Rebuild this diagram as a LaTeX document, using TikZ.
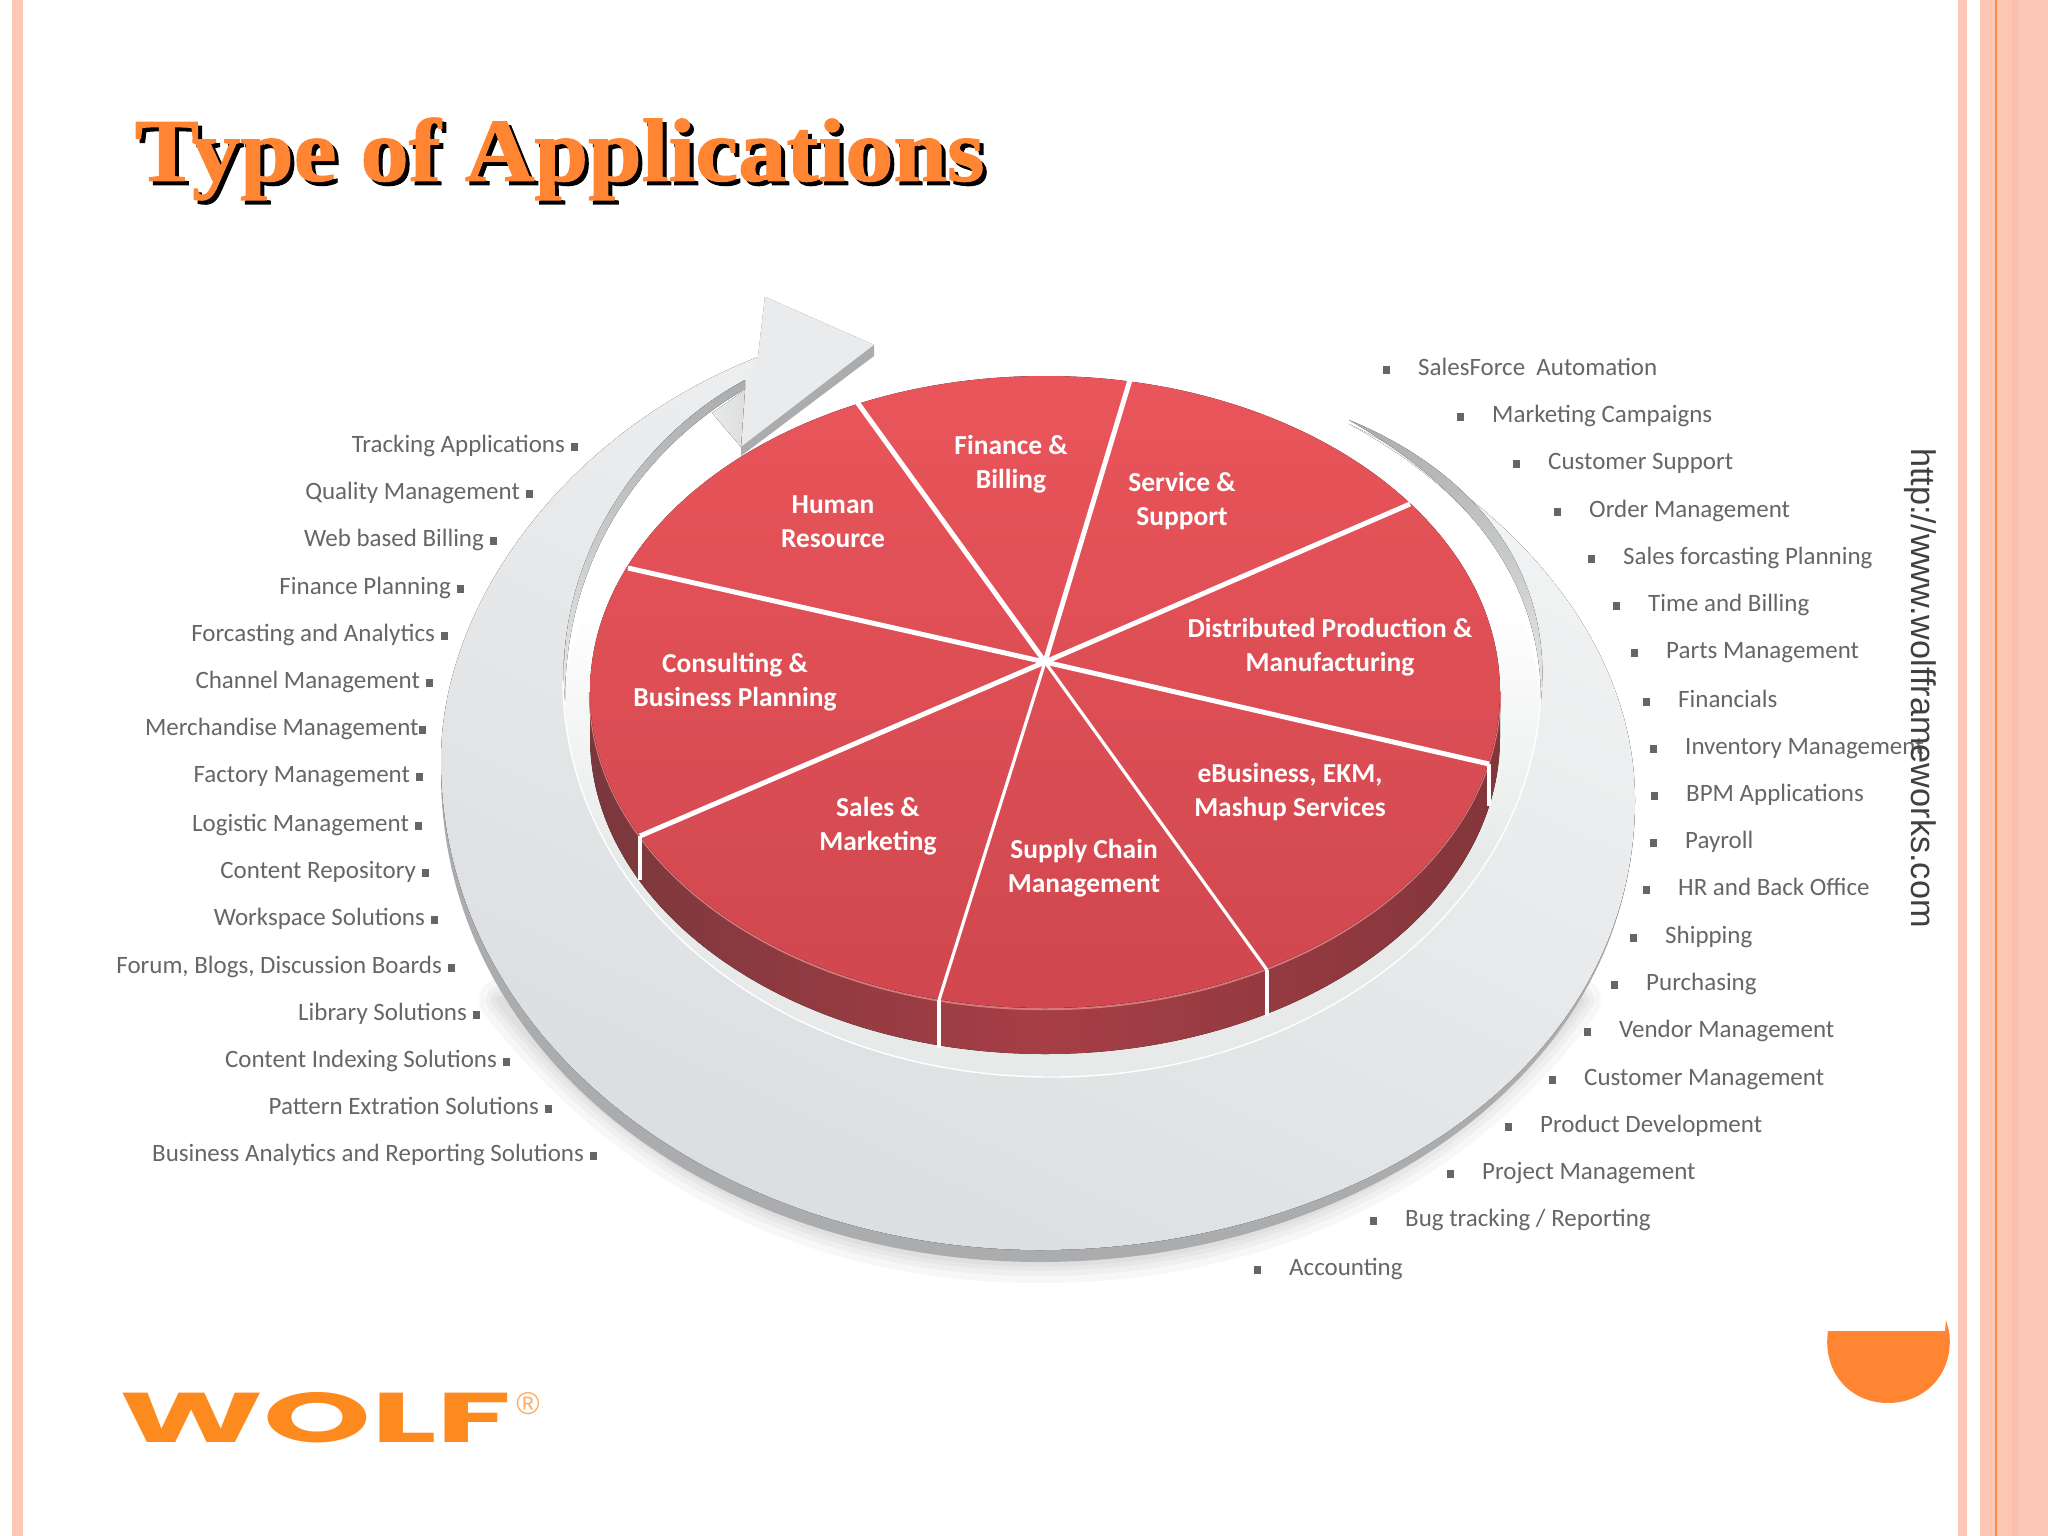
\documentclass[tikz,border=0pt]{standalone}
\usepackage{fontspec}
\usepackage{xcolor}
\setmainfont{Carlito}
\newfontfamily\titlefont[BoldFeatures={FakeBold=1.2}]{Liberation Serif}
\newfontfamily\urlfont{Liberation Sans}
\newfontfamily\logofont{Poppins}
\definecolor{stripe}{HTML}{FDC7B5}
\definecolor{stripedark}{HTML}{FBBFAB}
\definecolor{accent}{HTML}{FF8533}
\definecolor{logoorange}{HTML}{FD8A1E}
\definecolor{listgrey}{HTML}{666666}
\definecolor{rimgrey}{HTML}{ABACAD}
\definecolor{pietop}{HTML}{E9555A}
\definecolor{piebottom}{HTML}{D0474F}
\definecolor{pierim}{HTML}{D9787A}
\definecolor{sideleft}{HTML}{7A383C}
\definecolor{sidemid}{HTML}{A73E46}
\definecolor{sideright}{HTML}{82363B}
\definecolor{ringtop}{HTML}{F3F4F4}
\definecolor{ringbottom}{HTML}{DCDDE0}
\definecolor{headgrey}{HTML}{E9EBEC}
\definecolor{holebottom}{HTML}{E8EAEA}
\pgfdeclareverticalshading{holeshade}{100bp}{color(0bp)=(holebottom); color(40bp)=(holebottom); color(58bp)=(white); color(100bp)=(white)}
\newcommand{\sqb}{\raisebox{0.3pt}{\rule{2.2pt}{2.2pt}}}
\newcommand{\ringedge}{(441,780) .. controls (446,1070) and (730,1262) .. (1040,1262) .. controls (1340,1262) and (1635,1085) .. (1635,800)}
\newcommand{\shadowedge}{(500,1000) .. controls (640,1180) and (830,1262) .. (1040,1262) .. controls (1250,1262) and (1450,1180) .. (1580,1000)}
\tikzset{
  pielabel/.style={text=white,font=\fontsize{7.8}{9.7}\selectfont\bfseries,align=center,inner sep=0,yshift=-0.6pt},
  leftitem/.style={text=listgrey,font=\fontsize{7.1}{8}\selectfont,anchor=east,inner sep=0,text height=5pt,text depth=1.5pt,yshift=-0.6pt},
  rightitem/.style={text=listgrey,font=\fontsize{7.1}{8}\selectfont,anchor=west,inner sep=0,text height=5pt,text depth=1.5pt,yshift=-0.6pt},
  spoke/.style={white,line width=1.4pt},
  thinspoke/.style={white,line width=0.9pt},
  softshadow/.style={black,opacity=0.03,line cap=round},
  titletext/.style={font=\fontsize{25.5}{30}\selectfont\titlefont\bfseries,anchor=west,inner sep=0,xscale=1.075}
}
\begin{document}
\begin{tikzpicture}[x=0.01cm,y=-0.01cm]
\useasboundingbox (0,0) rectangle (2048,1536);
\fill [white] (0,0) rectangle (2048,1536);
\fill [stripe] (12,0) rectangle (23,1536);
\fill [stripe] (1958,0) rectangle (1967,1536);
\fill [stripe] (1980,0) rectangle (2048,1536);
\fill [stripedark] (2012,0) rectangle (2018,1536);
\fill [accent!90!stripe] (1995,0) rectangle (1997,1536);

\node [titletext,black] (titleshadow) at (138,163) {Type of Applications};
\node [titletext,accent] (title) at (134,159) {Type of Applications};

\draw [softshadow,line width=12pt] \shadowedge;
\draw [softshadow,line width=8pt] \shadowedge;
\draw [softshadow,line width=5pt] \shadowedge;
\draw [softshadow,line width=2.5pt] \shadowedge;
\fill [rimgrey] \ringedge -- cycle;
\shade [shading=holeshade] (1052,720) ellipse [x radius=489, y radius=357];
\fill [top color=ringtop,bottom color=ringbottom,shading angle=-25] (1349,424) .. controls (1510,500) and (1635,640) .. (1635,800) .. controls (1635,1080) and (1340,1250) .. (1040,1250) .. controls (730,1250) and (441,1050) .. (441,760) .. controls (441,600) and (570,430) .. (758,357) -- (765,297) -- (874,345) -- (741,447) -- (745,387) .. controls (640,450) and (563,560) .. (563,680) .. controls (563,900) and (780,1077) .. (1052,1077) .. controls (1320,1077) and (1541,900) .. (1541,680) .. controls (1541,580) and (1470,490) .. (1349,424) -- cycle;
\fill [headgrey] (758,357) -- (765,297) -- (874,345) -- (741,447) -- (745,387) -- cycle;
\draw [white,line width=0.4pt] (563,680) .. controls (563,900) and (780,1077) .. (1052,1077) .. controls (1320,1077) and (1541,900) .. (1541,680);
\fill [left color=holebottom,right color=black!13] (712,413) -- (745,390) -- (741,447) -- cycle;
\fill [rimgrey] (874,345) -- (874,356) -- (741,456) -- (741,447) -- cycle;
\fill [top color=rimgrey,middle color=rimgrey,bottom color=holebottom] (745,380) -- (745,389) .. controls (640,450) and (565,560) .. (565,700) .. controls (553,560) and (640,436) .. (745,380) -- cycle;
\fill [top color=rimgrey,middle color=rimgrey,bottom color=holebottom] (1349,420) .. controls (1470,490) and (1541,580) .. (1541,700) .. controls (1553,580) and (1485,476) .. (1349,420) -- cycle;

\fill [left color=sideleft,right color=sideright,middle color=sidemid] (590,692) -- (590,737) .. controls (590,912) and (794,1054) .. (1045,1054) .. controls (1296,1054) and (1500,912) .. (1500,737) -- (1500,692) -- cycle;
\draw [pierim,line width=0.7pt] (590,692) .. controls (590,867) and (794,1009) .. (1045,1009) .. controls (1296,1009) and (1500,867) .. (1500,692);
\fill [top color=pietop,bottom color=piebottom] (1045,692) ellipse [x radius=455, y radius=316];

\coordinate (hub) at (1045,662);
\coordinate (sp1) at (1130,380);
\coordinate (sp2) at (1410,504);
\coordinate (sp3) at (1489,764);
\coordinate (sp4) at (1267,970);
\coordinate (sp5) at (939,1000);
\coordinate (sp6) at (640,836);
\coordinate (sp7) at (628,568);
\coordinate (sp8) at (857,402);
\coordinate (dn3) at (1489,806);
\coordinate (dn4) at (1267,1016);
\coordinate (dn5) at (939,1048);
\coordinate (dn6) at (640,880);
\draw [spoke] (hub) -- (sp1);
\draw [spoke] (hub) -- (sp2);
\draw [spoke] (hub) -- (sp3);
\draw [thinspoke] (hub) -- (sp4);
\draw [thinspoke] (hub) -- (sp5);
\draw [spoke] (hub) -- (sp6);
\draw [spoke] (hub) -- (sp7);
\draw [spoke] (hub) -- (sp8);
\draw [thinspoke] (sp3) -- (dn3);
\draw [thinspoke] (sp4) -- (dn4);
\draw [thinspoke] (sp5) -- (dn5);
\draw [thinspoke] (sp6) -- (dn6);

\node [pielabel] (finance) at (1011,462) {Finance \&\\Billing};
\node [pielabel] (service) at (1182,499) {Service \&\\Support};
\node [pielabel] (human) at (833,520) {Human\\Resource};
\node [pielabel] (distributed) at (1330,645) {Distributed Production \&\\Manufacturing};
\node [pielabel] (consulting) at (735,680) {Consulting \&\\Business Planning};
\node [pielabel] (ebusiness) at (1290,790) {eBusiness, EKM,\\Mashup Services};
\node [pielabel] (sales) at (878,824) {Sales \&\\Marketing};
\node [pielabel] (supply) at (1084,866) {Supply Chain\\Management};

\node [leftitem] (l1) at (579,444) {Tracking Applications \sqb};
\node [leftitem] (l2) at (534,491) {Quality Management \sqb};
\node [leftitem] (l3) at (498,538) {Web based Billing \sqb};
\node [leftitem] (l4) at (465,586) {Finance Planning \sqb};
\node [leftitem] (l5) at (449,633) {Forcasting and Analytics \sqb};
\node [leftitem] (l6) at (434,680) {Channel Management \sqb};
\node [leftitem] (l7) at (427,727) {Merchandise Management\sqb};
\node [leftitem] (l8) at (424,774) {Factory Management \sqb};
\node [leftitem] (l9) at (423,823) {Logistic Management \sqb};
\node [leftitem] (l10) at (430,870) {Content Repository \sqb};
\node [leftitem] (l11) at (439,917) {Workspace Solutions \sqb};
\node [leftitem] (l12) at (456,965) {Forum, Blogs, Discussion Boards \sqb};
\node [leftitem] (l13) at (481,1012) {Library Solutions \sqb};
\node [leftitem] (l14) at (511,1059) {Content Indexing Solutions \sqb};
\node [leftitem] (l15) at (553,1106) {Pattern Extration Solutions \sqb};
\node [leftitem] (l16) at (598,1153) {Business Analytics and Reporting Solutions \sqb};

\node [rightitem] (r1) at (1382,367) {\sqb\hspace{7.9pt}SalesForce~ Automation};
\node [rightitem] (r2) at (1456,414) {\sqb\hspace{7.9pt}Marketing Campaigns};
\node [rightitem] (r3) at (1512,461) {\sqb\hspace{7.9pt}Customer Support};
\node [rightitem] (r4) at (1553,509) {\sqb\hspace{7.9pt}Order Management};
\node [rightitem] (r5) at (1587,556) {\sqb\hspace{7.9pt}Sales forcasting Planning};
\node [rightitem] (r6) at (1612,603) {\sqb\hspace{7.9pt}Time and Billing};
\node [rightitem] (r7) at (1630,650) {\sqb\hspace{7.9pt}Parts Management};
\node [rightitem] (r8) at (1642,699) {\sqb\hspace{7.9pt}Financials};
\node [rightitem] (r9) at (1649,746) {\sqb\hspace{7.9pt}Inventory Management};
\node [rightitem] (r10) at (1650,793) {\sqb\hspace{7.9pt}BPM Applications};
\node [rightitem] (r11) at (1649,840) {\sqb\hspace{7.9pt}Payroll};
\node [rightitem] (r12) at (1642,887) {\sqb\hspace{7.9pt}HR and Back Office};
\node [rightitem] (r13) at (1629,935) {\sqb\hspace{7.9pt}Shipping};
\node [rightitem] (r14) at (1610,982) {\sqb\hspace{7.9pt}Purchasing};
\node [rightitem] (r15) at (1583,1029) {\sqb\hspace{7.9pt}Vendor Management};
\node [rightitem] (r16) at (1548,1077) {\sqb\hspace{7.9pt}Customer Management};
\node [rightitem] (r17) at (1504,1124) {\sqb\hspace{7.9pt}Product Development};
\node [rightitem] (r18) at (1446,1171) {\sqb\hspace{7.9pt}Project Management};
\node [rightitem] (r19) at (1369,1218) {\sqb\hspace{7.9pt}Bug tracking / Reporting};
\node [rightitem] (r20) at (1253,1267) {\sqb\hspace{7.9pt}Accounting};

\node [rotate=-90,text=black!75,font=\fontsize{9.75}{11}\selectfont\urlfont,inner sep=0] (url) at (1920,688) {http://www.wolfframeworks.com};

\fill [accent] (1828,1331) .. controls (1822,1372) and (1850,1403) .. (1888,1403) .. controls (1926,1403) and (1955,1372) .. (1949,1331) -- (1946,1320) -- (1945,1331) -- cycle;

\node [text=logoorange,font=\fontsize{20}{24}\selectfont\logofont\bfseries,xscale=1.95,anchor=west,inner sep=0] (logo) at (118,1418) {WOLF};
\node [text=logoorange!70,font=\fontsize{9}{10}\selectfont\urlfont,inner sep=0] (reg) at (528,1404) {®};
\end{tikzpicture}
\end{document}
